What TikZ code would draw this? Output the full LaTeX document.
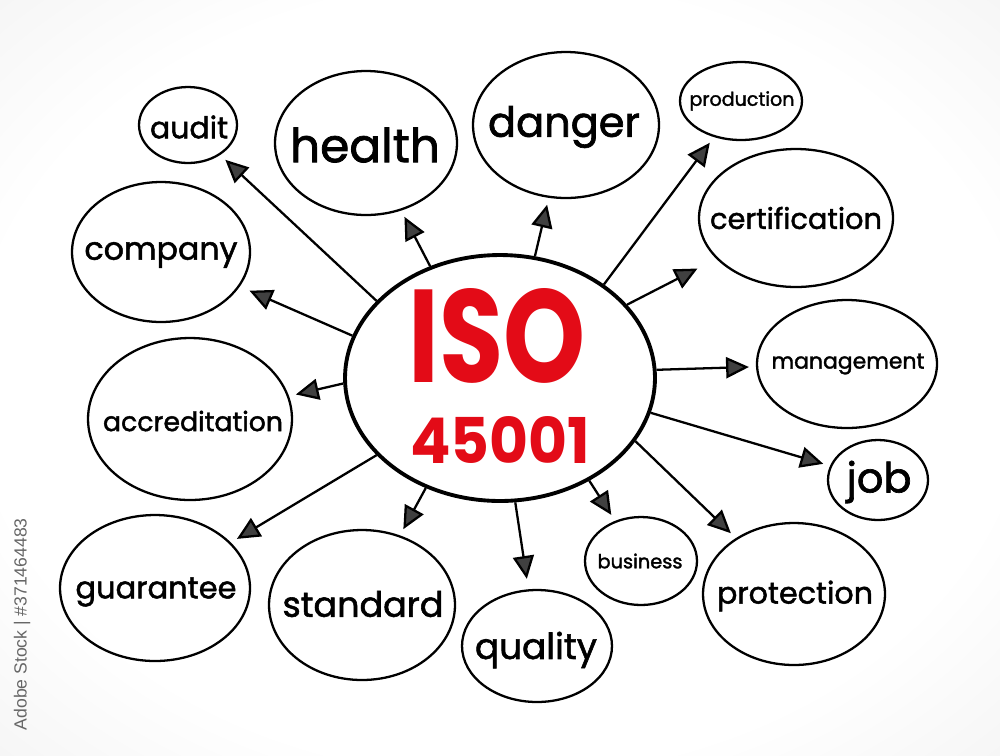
\documentclass[tikz,border=0pt]{standalone}
\usepackage{graphicx}
\usepackage{fontspec}
\setmainfont{Poppins}
\newfontfamily\hand{Poppins}[FakeBold=1.6]
\newfontfamily\wmfont{Liberation Sans}
\usetikzlibrary{shapes.geometric,arrows.meta}
\definecolor{isored}{HTML}{E30B17}
\pgfdeclareradialshading{vign}{\pgfpoint{0bp}{0bp}}{color(0bp)=(white); color(26bp)=(white); color(50bp)=(black!9); color(72bp)=(black!15)}
\begin{document}
\begin{tikzpicture}[x=0.02cm,y=-0.02cm,
  bubble/.style={ellipse, draw=black, line width=1.3pt, inner sep=0pt},
  link/.style={line width=1.3pt, -{Triangle[length=13pt,width=12pt,open,line width=1.3pt,fill=black!75]}, shorten >=4pt},
  word/.style={inner sep=0pt, font=\hand}]
\shade[shading=vign] (0,0) rectangle (1000,755);
\useasboundingbox (0,0) rectangle (1000,755);
% watermark id
\node[rotate=90, anchor=east, text=black!60, font=\wmfont\fontsize{10}{12}\selectfont, inner sep=0pt] (wm) at (22,518) {Adobe Stock | \#371464483};
% central node
\node[bubble, line width=2.2pt, minimum width=6.2cm, minimum height=4.92cm] (iso) at (500,378) {};
\node[word, text=isored, font=\bfseries] (isot) at (497,336) {\resizebox{3.54cm}{1.88cm}{ISO}};
\node[word, text=isored, font=\bfseries] (numt) at (500,440) {\resizebox{3.6cm}{0.94cm}{45001}};
% satellites
\node[bubble, minimum width=1.96cm, minimum height=1.52cm] (audit) at (188,125) {};
\node[bubble, minimum width=3.64cm, minimum height=2.88cm] (health) at (366,143) {};
\node[bubble, minimum width=3.72cm, minimum height=2.92cm] (danger) at (566,125) {};
\node[bubble, minimum width=2.44cm, minimum height=1.56cm] (production) at (741,101) {};
\node[bubble, minimum width=3.88cm, minimum height=2.76cm] (certification) at (796,218) {};
\node[bubble, minimum width=3.56cm, minimum height=2.8cm] (company) at (161,252) {};
\node[bubble, minimum width=3.6cm, minimum height=2.56cm] (management) at (847,364) {};
\node[bubble, minimum width=4.08cm, minimum height=3.24cm] (accreditation) at (190,419) {};
\node[bubble, minimum width=2.0cm, minimum height=1.6cm] (job) at (878,480) {};
\node[bubble, minimum width=3.8cm, minimum height=2.92cm] (guarantee) at (155,588) {};
\node[bubble, minimum width=3.72cm, minimum height=3.0cm] (standard) at (362,605) {};
\node[bubble, minimum width=3.0cm, minimum height=2.24cm] (quality) at (537,646) {};
\node[bubble, minimum width=2.24cm, minimum height=1.76cm] (business) at (641,561) {};
\node[bubble, minimum width=3.64cm, minimum height=2.84cm] (protection) at (794,594) {};
% words
\node[word] (audit-t) at (189,127) {\resizebox{1.56cm}{!}{audit}};
\node[word] (health-t) at (365,145) {\resizebox{3.0cm}{!}{health}};
\node[word] (danger-t) at (564,127) {\resizebox{3.04cm}{!}{danger}};
\node[word] (production-t) at (742,101) {\resizebox{2.1cm}{!}{production}};
\node[word] (certification-t) at (796,218) {\resizebox{3.44cm}{!}{certification}};
\node[word] (company-t) at (161,255) {\resizebox{3.06cm}{!}{company}};
\node[word] (management-t) at (848,364) {\resizebox{3.06cm}{!}{management}};
\node[word] (accreditation-t) at (193,421) {\resizebox{3.6cm}{!}{accreditation}};
\node[word] (job-t) at (879,482) {\resizebox{1.3cm}{!}{job}};
\node[word] (guarantee-t) at (156,592) {\resizebox{3.22cm}{!}{guarantee}};
\node[word] (standard-t) at (363,604) {\resizebox{3.22cm}{!}{standard}};
\node[word] (quality-t) at (536,650) {\resizebox{2.44cm}{!}{quality}};
\node[word] (business-t) at (640,561) {\resizebox{1.7cm}{!}{business}};
\node[word] (protection-t) at (795,596) {\resizebox{3.12cm}{!}{protection}};
% connectors
\draw[link] (iso.148) -- (audit);
\draw[link] (iso.122) -- (health);
\draw[link] (iso.74) -- (danger);
\draw[link] (iso.42) -- (production);
\draw[link, shorten >=12pt] (iso.30) -- (certification);
\draw[link, shorten >=6pt] (iso.164) -- (company);
\draw[link] (iso.182) -- (accreditation);
\draw[link] (iso.3) -- (management);
\draw[link] (iso.-13) -- (job);
\draw[link] (iso.-25) -- (protection);
\draw[link] (iso.-49) -- (business);
\draw[link, shorten >=6pt] (iso.-83) -- (quality);
\draw[link] (iso.-124) -- (standard);
\draw[link] (iso.-148) -- (guarantee);
\end{tikzpicture}
\end{document}
